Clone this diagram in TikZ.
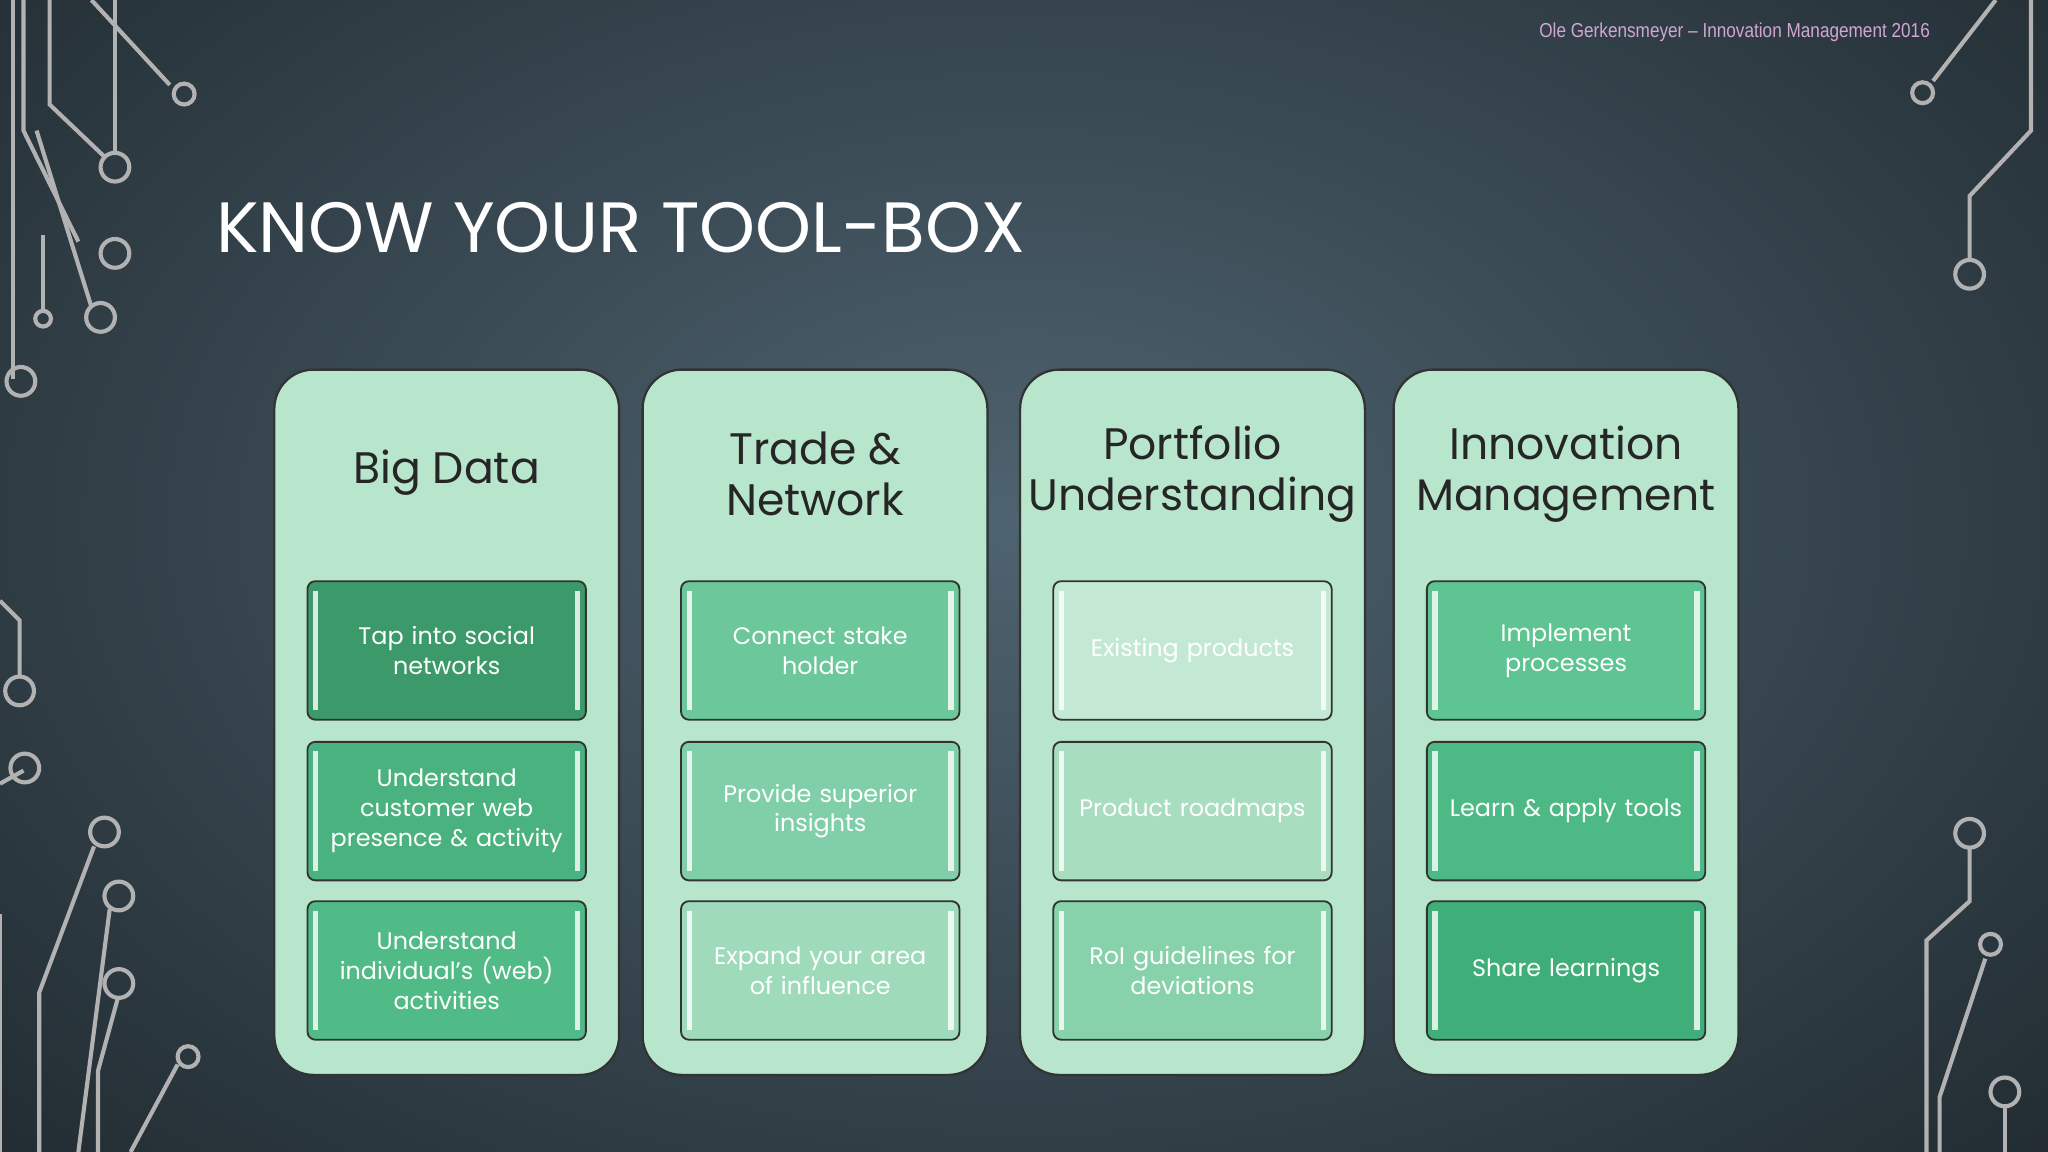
\documentclass[tikz,border=0pt]{standalone}
\usepackage{fontspec}
\setmainfont{Poppins}
\newfontfamily\narrowfont{Liberation Sans}
\begin{document}
\begin{tikzpicture}[x=0.01cm,y=-0.01cm,
 col/.style={draw=black!80,line width=0.5pt,fill=colfill,rounded corners=0.3cm},
 ibox/.style={draw=black!80,line width=0.4pt,rounded corners=0.06cm,inner sep=1pt,minimum width=2.13cm,minimum height=1.06cm,text width=2.03cm,align=center,text=white,font=\fontsize{5.2}{6.5}\selectfont},
 head/.style={align=center,text=black!85,font=\fontsize{9.6}{11}\selectfont},
 wire/.style={draw=gray!60,line width=0.9pt},
 dot/.style={draw=gray!60,line width=0.9pt,fill=none}]
\definecolor{colfill}{HTML}{B8E6CC}
\definecolor{bgc}{HTML}{4E6370}
\definecolor{bgd}{HTML}{161D21}
\useasboundingbox (0,0) rectangle (1568,882);
\shade[inner color=bgc,outer color=bgd] (-600,-500) rectangle (2168,1300);
\clip (0,0) rectangle (1568,882);
% circuit decorations left
\draw[wire] (10,0)--(10,290); \draw[dot] (16,292) circle (11);
\draw[wire] (18,0)--(18,100)--(60,185); \draw[dot] (88,194) circle (11);
\draw[wire] (38,0)--(38,80)--(80,120); \draw[dot] (88,128) circle (11);
\draw[wire] (70,0)--(130,65); \draw[dot] (141,72) circle (8);
\draw[wire] (88,0)--(88,117);
\draw[wire] (28,100)--(70,235); \draw[dot] (77,243) circle (11);
\draw[wire] (33,180)--(33,238); \draw[dot] (33,244) circle (6);
\draw[wire] (0,460)--(15,475)--(15,518); \draw[dot] (15,529) circle (11);
\draw[wire] (0,600)--(18,590); \draw[dot] (19,588) circle (11);
\draw[wire] (0,882)--(0,700); 
\draw[wire] (30,882)--(30,760)--(72,648); \draw[dot] (80,637) circle (11);
\draw[wire] (60,882)--(84,696); \draw[dot] (91,686) circle (11);
\draw[wire] (75,882)--(75,820)--(90,765); \draw[dot] (91,753) circle (11);
\draw[wire] (100,882)--(136,815); \draw[dot] (144,809) circle (8);
% right
\draw[wire] (1528,0)--(1480,62); \draw[dot] (1472,71) circle (8);
\draw[wire] (1555,0)--(1555,100)--(1508,150)--(1508,198); \draw[dot] (1508,210) circle (11);
\draw[wire] (1508,650)--(1508,690)--(1475,720)--(1475,882); \draw[dot] (1508,638) circle (11);
\draw[wire] (1520,734)--(1485,840)--(1485,882); \draw[dot] (1524,723) circle (8);
\draw[wire] (1535,848)--(1535,882); \draw[dot] (1535,836) circle (11);
% header texts
\node[anchor=north east,text=violet!35!white,font=\narrowfont\fontsize{4.4}{5}\selectfont] (auth) at (1490,5) {\scalebox{0.85}[1]{Ole Gerkensmeyer – Innovation Management 2016}};
\node[anchor=west,text=white,font=\fontsize{15.5}{16}\selectfont] (title) at (153,174) {KNOW YOUR TOOL-BOX};
% columns
\foreach \x/\n in {210/c1,492/c2,781/c3,1067/c4}{
  \draw[col] (\x,283) rectangle ++(264,540);
}
\node[head] (h1) at (342,362) {Big Data};
\node[head] (h2) at (624,363) {Trade \&\\Network};
\node[head] (h3) at (913,363) {Portfolio\\Understanding};
\node[head] (h4) at (1199,363) {Innovation\\Management};
% boxes
\newcommand{\bx}[5]{\node[ibox,fill=#3] (#4) at (#1,#2) {#5};
 \draw[white!80!#3,line width=1.2pt] ([xshift=0.07cm,yshift=-0.08cm]#4.north west)--([xshift=0.07cm,yshift=0.08cm]#4.south west);
 \draw[white!80!#3,line width=1.2pt] ([xshift=-0.07cm,yshift=-0.08cm]#4.north east)--([xshift=-0.07cm,yshift=0.08cm]#4.south east);}
\definecolor{a1}{HTML}{3C996A}\definecolor{a2}{HTML}{4AB27F}\definecolor{a3}{HTML}{50BB86}
\definecolor{b1}{HTML}{6CC79A}\definecolor{b2}{HTML}{80CFA8}\definecolor{b3}{HTML}{9FDABB}
\definecolor{d1}{HTML}{C3E9D4}\definecolor{d2}{HTML}{A8DDC0}\definecolor{d3}{HTML}{88D2AB}
\definecolor{e1}{HTML}{5DC492}\definecolor{e2}{HTML}{4DBA85}\definecolor{e3}{HTML}{40AE79}
\bx{342}{498}{a1}{a}{Tap into social\\networks}
\bx{342}{621}{a2}{b}{Understand\\customer web\\presence \& activity}
\bx{342}{743}{a3}{c}{Understand\\individual's (web)\\activities}
\bx{628}{498}{b1}{d}{Connect stake\\holder}
\bx{628}{621}{b2}{e}{Provide superior\\insights}
\bx{628}{743}{b3}{f}{Expand your area\\of influence}
\bx{913}{498}{d1}{g}{Existing products}
\bx{913}{621}{d2}{h}{Product roadmaps}
\bx{913}{743}{d3}{i}{RoI guidelines for\\deviations}
\bx{1199}{498}{e1}{j}{Implement\\processes}
\bx{1199}{621}{e2}{k}{Learn \& apply tools}
\bx{1199}{743}{e3}{l}{Share learnings}
\end{tikzpicture}
\end{document}
